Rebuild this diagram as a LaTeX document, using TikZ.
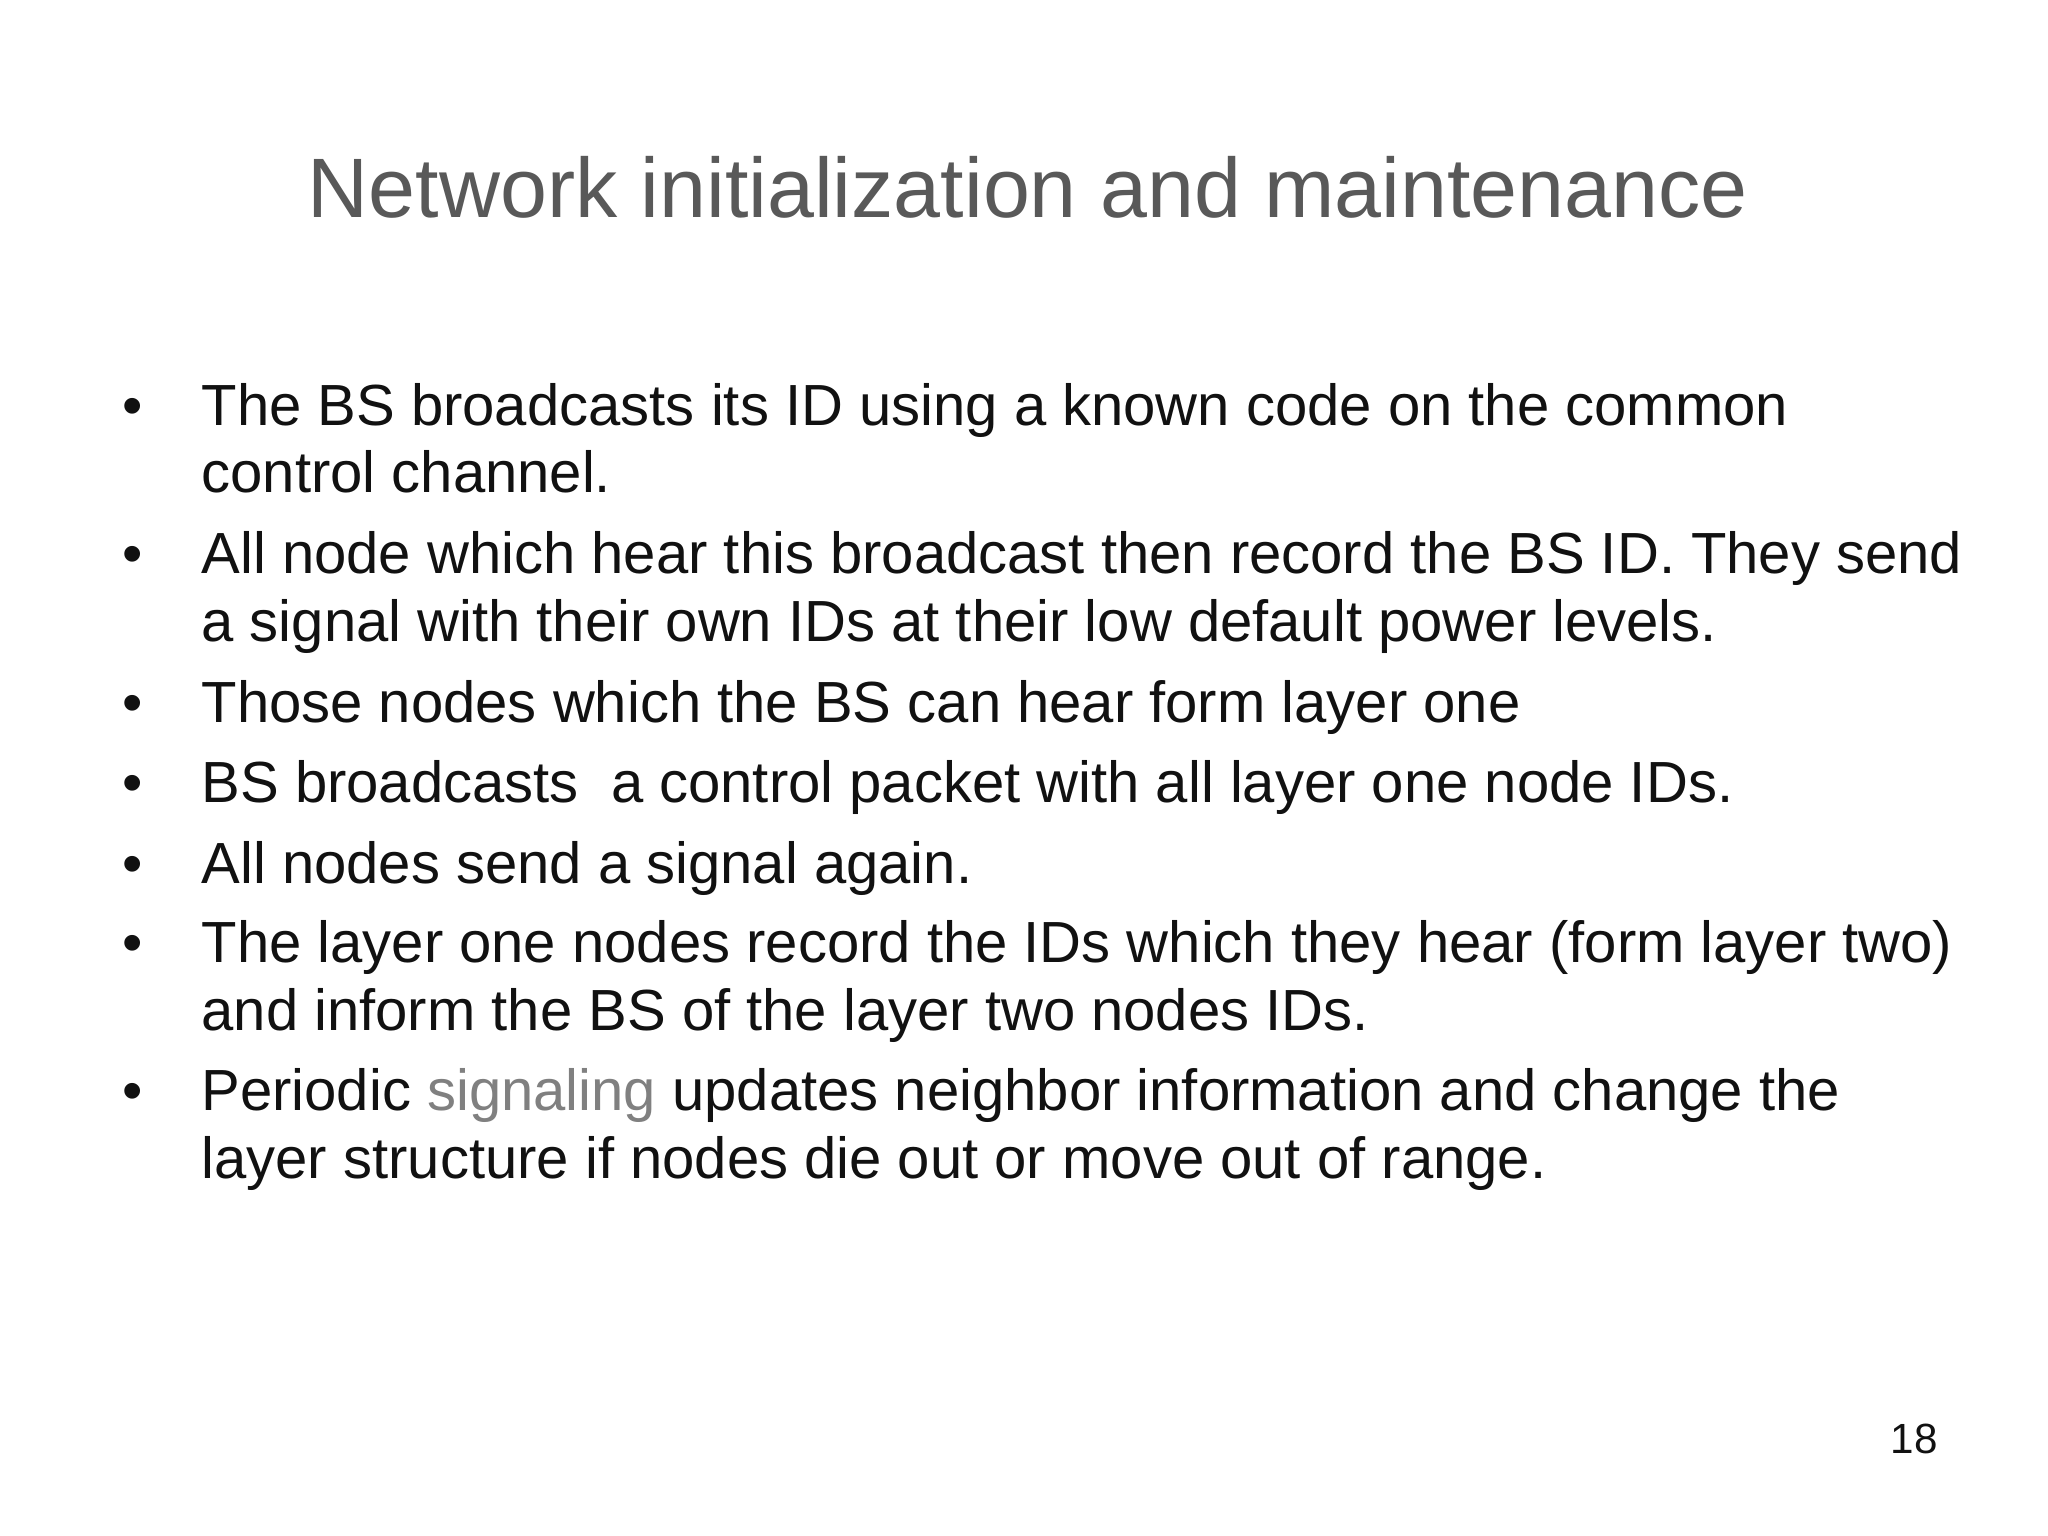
\documentclass[tikz,border=0pt]{standalone}
\usepackage{fontspec}
\setmainfont{Liberation Sans}
\definecolor{titlegray}{HTML}{595959}
\definecolor{txt}{HTML}{111111}
\begin{document}
\begin{tikzpicture}[x=0.01313cm,y=-0.01313cm,
  ln/.style={anchor=base west,inner sep=0pt,font=\fontsize{16.5}{20}\selectfont,text=txt},
  bl/.style={anchor=base,inner sep=0pt,font=\fontsize{16.5}{20}\selectfont,text=txt}]
\useasboundingbox[fill=white] (0,0) rectangle (1560,1170);
\node[anchor=base,inner sep=0pt,font=\fontsize{24}{28}\selectfont,text=titlegray] (title) at (783,166) {Network initialization and maintenance};
\foreach \y in {324,437,550,611,673,733,846} \node[bl] at (101,\y) {•};
\node[ln] (l1) at (153,324) {The BS broadcasts its ID using a known code on the common};
\node[ln] (l2) at (153,375) {control channel.};
\node[ln] (l3) at (153,437) {All node which hear this broadcast then record the BS ID. They send};
\node[ln] (l4) at (153,489) {a signal with their own IDs at their low default power levels.};
\node[ln] (l5) at (153,550) {Those nodes which the BS can hear form layer one};
\node[ln] (l6) at (153,611) {BS broadcasts\ \ a control packet with all layer one node IDs.};
\node[ln] (l7) at (153,673) {All nodes send a signal again.};
\node[ln] (l8) at (153,733) {The layer one nodes record the IDs which they hear (form layer two)};
\node[ln] (l9) at (153,785) {and inform the BS of the layer two nodes IDs.};
\node[ln] (l10) at (153,846) {Periodic \textcolor{gray}{signaling} updates neighbor information and change the};
\node[ln] (l11) at (153,898) {layer structure if nodes die out or move out of range.};
\node[anchor=base,inner sep=0pt,font=\fontsize{12}{14}\selectfont,text=txt] (pg) at (1458,1107) {18};
\end{tikzpicture}
\end{document}
